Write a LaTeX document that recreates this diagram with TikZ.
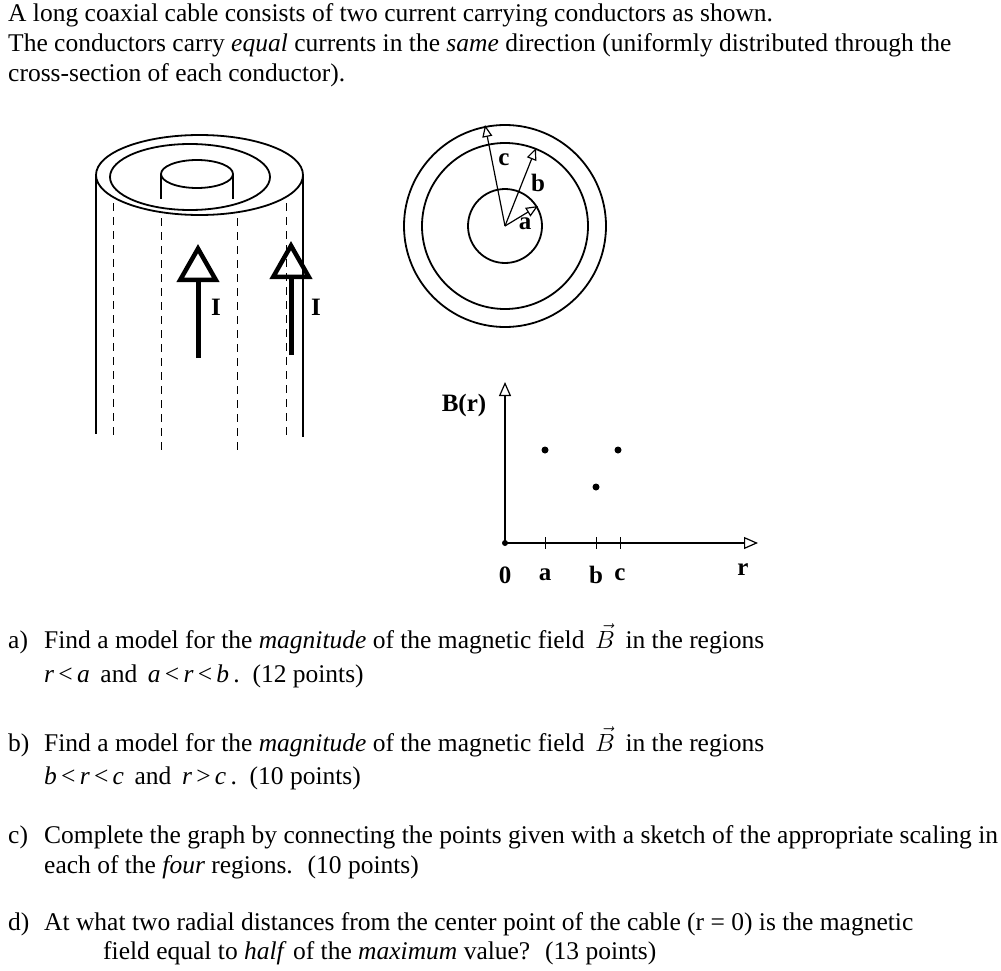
\documentclass[tikz,border=0pt]{standalone}
\usepackage{fontspec}
\setmainfont{Liberation Serif}
\usetikzlibrary{arrows.meta}
\begin{document}
\begin{tikzpicture}[x=1pt,y=-1pt,
  ln/.style={line width=1.8pt},
  dsh/.style={line width=1pt,dash pattern=on 8pt off 6pt},
  txt/.style={anchor=base west,inner sep=0pt,font=\fontsize{25.5}{28}\selectfont},
  lab/.style={inner sep=0pt,font=\fontsize{25}{27}\selectfont\bfseries},
  oa/.style={line width=1.2pt,-{Triangle[open,length=12pt,width=10pt]}},
  big/.style={line width=5pt,-{Triangle[open,length=38pt,width=42pt,line width=4.5pt]}}]
\useasboundingbox (0,0) rectangle (1001,971);
% header
\node[txt] (t1) at (8,22) {A long coaxial cable consists of two current carrying conductors as shown.};
\node[txt] (t2) at (8,52) {The conductors carry \textit{equal} currents in the \textit{same} direction (uniformly distributed through the};
\node[txt] (t3) at (8,82) {cross-section of each conductor).};
% cylinder
\draw[ln] (96,175) -- (96,434);
\draw[ln] (303,175) -- (303,437);
\draw[ln] (199.5,175) ellipse [x radius=103.5,y radius=40];
\draw[ln] (190,177) ellipse [x radius=80,y radius=33];
\draw[ln] (197,174) ellipse [x radius=36,y radius=14];
\draw[ln] (161,174) -- (161,199);
\draw[ln] (233,174) -- (233,199);
\draw[dsh] (113,203) -- (113,437);
\draw[dsh] (161,218) -- (161,452);
\draw[dsh] (237,218) -- (237,452);
\draw[dsh] (286,203) -- (286,437);
\coordinate (i1s) at (198,358); \coordinate (i1e) at (198,244);
\coordinate (i2s) at (291,355); \coordinate (i2e) at (291,241);
\draw[big] (i1s) -- (i1e);
\draw[big] (i2s) -- (i2e);
\node[lab] (I1) at (216,307) {I};
\node[lab] (I2) at (316,307) {I};
% circles
\coordinate (O) at (505,226);
\draw[ln] (O) circle [radius=101];
\draw[ln] (O) circle [radius=83];
\draw[ln] (O) circle [radius=37];
\coordinate (C) at (485,125);
\coordinate (Bp) at (536,148);
\coordinate (A) at (538,206);
\draw[oa] (O) -- (C);
\draw[oa] (O) -- (Bp);
\draw[oa] (O) -- (A);
\node[lab] (lc) at (504,160) {c};
\node[lab] (lb) at (538,183) {b};
\node[lab] (la) at (525,224) {a};
% graph
\coordinate (G) at (505,543);
\coordinate (Gy) at (505,382);
\coordinate (Gx) at (758,543);
\draw[line width=2.2pt,-{Triangle[open,length=14pt,width=12pt,line width=1.2pt]}] (G) -- (Gy);
\draw[line width=2.2pt,-{Triangle[open,length=14pt,width=12pt,line width=1.2pt]}] (G) -- (Gx);
\fill (G) circle [radius=3];
\foreach \x in {545,596,620} \draw[line width=1pt] (\x,537) -- (\x,549);
\fill (545,450) circle [radius=3.5];
\fill (596,487) circle [radius=3.5];
\fill (618,450) circle [radius=3.5];
\node[lab] (By) at (464,405) {B(r)};
\node[lab] (l0) at (505,575) {0};
\node[lab] (la2) at (545,575) {a};
\node[lab] (lb2) at (596,575) {b};
\node[lab] (lc2) at (620,575) {c};
\node[lab] (lr) at (743,570) {r};
% questions
\node[txt] (qa) at (8,648) {a)};
\node[txt] (qa1) at (44,648) {Find a model for the \textit{magnitude} of the magnetic field \,$\vec{B}$\, in the regions};
\node[txt] (qa2) at (44,682) {\textit{r}\,<\,\textit{a} \,and\, \textit{a}\,<\,\textit{r}\,<\,\textit{b}\,.\, (12 points)};
\node[txt] (qb) at (8,751) {b)};
\node[txt] (qb1) at (44,751) {Find a model for the \textit{magnitude} of the magnetic field \,$\vec{B}$\, in the regions};
\node[txt] (qb2) at (44,784) {\textit{b}\,<\,\textit{r}\,<\,\textit{c} \,and\, \textit{r}\,>\,\textit{c}\,.\, (10 points)};
\node[txt] (qc) at (8,843) {c)};
\node[txt] (qc1) at (44,843) {Complete the graph by connecting the points given with a sketch of the appropriate scaling in};
\node[txt] (qc2) at (44,873) {each of the \textit{four} regions. \ (10 points)};
\node[txt] (qd) at (8,930) {d)};
\node[txt] (qd1) at (44,930) {At what two radial distances from the center point of the cable (r = 0) is the magnetic};
\node[txt] (qd2) at (103,959) {field equal to \textit{half} of the \textit{maximum} value? \ (13 points)};
\end{tikzpicture}
\end{document}
